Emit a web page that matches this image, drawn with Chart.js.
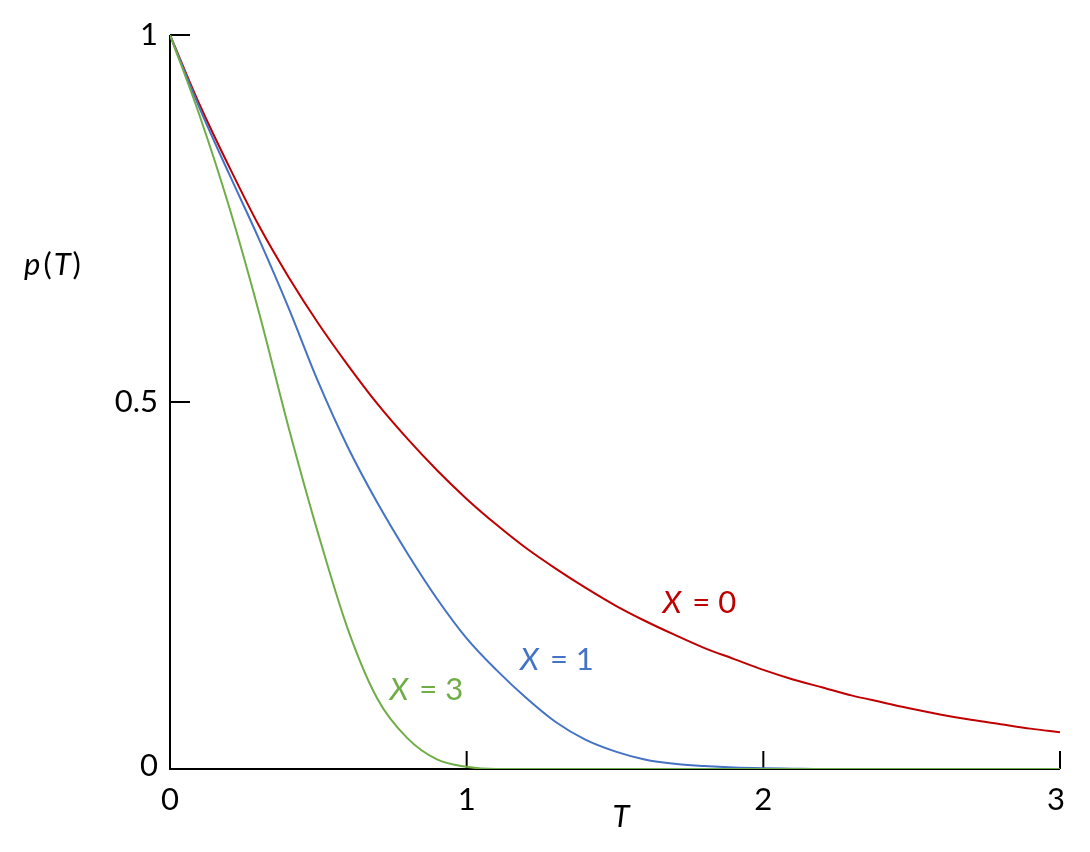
<!DOCTYPE html>
<html>
<head>
<meta charset="utf-8">
<script src="https://cdn.jsdelivr.net/npm/chart.js@4"></script>
<style>
  html, body { margin: 0; padding: 0; background: #fff; }
  #chart { display: block; }
</style>
</head>
<body>
<canvas id="chart" width="1090" height="852"></canvas>
<script>
// T values (x axis)
var tValues = [0, 0.1, 0.2, 0.3, 0.4, 0.5, 0.6, 0.7, 0.8, 0.9, 1.0,
               1.1, 1.2, 1.3, 1.4, 1.5, 1.6, 1.7, 1.8, 1.9, 2.0,
               2.1, 2.2, 2.3, 2.4, 2.5, 2.6, 2.7, 2.8, 2.9, 3.0];

// p(T) for X = 0, 1, 3
var pX0 = [1, 0.905, 0.82, 0.74, 0.67, 0.607, 0.55, 0.497, 0.45, 0.407, 0.368,
           0.333, 0.301, 0.273, 0.247, 0.223, 0.202, 0.183, 0.165, 0.15, 0.135,
           0.122, 0.111, 0.1, 0.091, 0.082, 0.074, 0.067, 0.061, 0.055, 0.05];
var pX1 = [1, 0.9, 0.81, 0.722, 0.628, 0.527, 0.438, 0.362, 0.294, 0.232, 0.178,
           0.135, 0.097, 0.064, 0.04, 0.024, 0.013, 0.007, 0.004, 0.002, 0.001,
           0.0005, 0, 0, 0, 0, 0, 0, 0, 0, 0];
var pX3 = [1, 0.89, 0.765, 0.622, 0.465, 0.32, 0.19, 0.095, 0.042, 0.013, 0.003,
           0, 0, 0, 0, 0, 0, 0, 0, 0, 0,
           0, 0, 0, 0, 0, 0, 0, 0, 0, 0];

var seriesNames = ["X = 0", "X = 1", "X = 3"];
var seriesColors = ["#C00000", "#4472C4", "#70AD47"];
// where each curve label sits, in data units [T, p]
var labelSpots = [[1.66, 0.226], [1.18, 0.148], [0.74, 0.108]];

var xTicks = [0, 1, 2, 3];
var xTickLabels = ["0", "1", "2", "3"];
var yTicks = [0, 0.5, 1];
var yTickLabels = ["0", "0.5", "1"];

var FONT = "Lato, 'Open Sans', sans-serif";
var SIZE = "31px ";

function pts(ys) {
    return tValues.map(function (t, i) { return {x: t, y: ys[i]}; });
}

// axes and ticks go under the curves, text goes on top
var axesPlugin = {
    id: "axesPlugin",
    beforeDatasetsDraw: function (chart) {
        var ctx = chart.ctx;
        var xs = chart.scales.x, ys = chart.scales.y;
        var x0 = xs.getPixelForValue(0), y0 = ys.getPixelForValue(0);
        var xEnd = xs.getPixelForValue(3), yTop = ys.getPixelForValue(1);
        ctx.save();
        ctx.strokeStyle = "#000";
        ctx.lineWidth = 2;
        ctx.beginPath();
        ctx.moveTo(x0, yTop);
        ctx.lineTo(x0, y0);
        ctx.lineTo(xEnd, y0);
        ctx.stroke();

        // ticks point inwards
        yTicks.forEach(function (v) {
            if (v === 0) return;
            var py = ys.getPixelForValue(v);
            ctx.beginPath();
            ctx.moveTo(x0, py);
            ctx.lineTo(x0 + 20, py);
            ctx.stroke();
        });
        xTicks.forEach(function (v) {
            if (v === 0) return;
            var px = xs.getPixelForValue(v);
            ctx.beginPath();
            ctx.moveTo(px, y0);
            ctx.lineTo(px, y0 - 18);
            ctx.stroke();
        });
        ctx.restore();
    },
    afterDraw: function (chart) {
        var ctx = chart.ctx;
        var xs = chart.scales.x, ys = chart.scales.y;
        var x0 = xs.getPixelForValue(0), y0 = ys.getPixelForValue(0);
        ctx.save();
        ctx.fillStyle = "#000";
        ctx.font = SIZE + FONT;
        ctx.textBaseline = "middle";
        ctx.textAlign = "right";
        yTicks.forEach(function (v, i) {
            ctx.fillText(yTickLabels[i], x0 - 12, ys.getPixelForValue(v) + (v === 0 ? -3 : 0));
        });
        ctx.textAlign = "center";
        xTicks.forEach(function (v, i) {
            var px = xs.getPixelForValue(v);
            if (v === 3) px -= 4;
            ctx.fillText(xTickLabels[i], px, y0 + 31);
        });

        // axis titles
        ctx.font = "italic " + SIZE + FONT;
        ctx.fillText("T", xs.getPixelForValue(1.52), y0 + 48);
        ctx.textAlign = "left";
        var tx = 24, ty = 265;
        ctx.fillText("p", tx, ty);
        var w = ctx.measureText("p").width;
        ctx.font = SIZE + FONT;
        ctx.fillText("(", tx + w + 3, ty);
        w += ctx.measureText("(").width + 3;
        ctx.font = "italic " + SIZE + FONT;
        ctx.fillText("T", tx + w + 2, ty);
        w += ctx.measureText("T").width + 2;
        ctx.font = SIZE + FONT;
        ctx.fillText(")", tx + w + 2, ty);

        // curve labels
        seriesNames.forEach(function (name, i) {
            var px = xs.getPixelForValue(labelSpots[i][0]);
            var py = ys.getPixelForValue(labelSpots[i][1]);
            ctx.fillStyle = seriesColors[i];
            ctx.font = "italic " + SIZE + FONT;
            ctx.fillText("X", px, py);
            var xw = ctx.measureText("X").width;
            ctx.font = SIZE + FONT;
            ctx.fillText(name.slice(1), px + xw + 3, py);
        });
        ctx.restore();
    }
};

var ctx1 = document.getElementById("chart").getContext("2d");
var myChart = new Chart(ctx1, {
    type: "line",
    data: {
        datasets: [
            {label: seriesNames[0], data: pts(pX0), borderColor: seriesColors[0], order: 2},
            {label: seriesNames[1], data: pts(pX1), borderColor: seriesColors[1], order: 1},
            {label: seriesNames[2], data: pts(pX3), borderColor: seriesColors[2], order: 0}
        ]
    },
    options: {
        responsive: false,
        animation: false,
        devicePixelRatio: 1,
        layout: {padding: {left: 170, right: 30, top: 35, bottom: 83}},
        elements: {
            point: {radius: 0},
            line: {borderWidth: 2, cubicInterpolationMode: "monotone", fill: false}
        },
        plugins: {legend: {display: false}, tooltip: {enabled: false}},
        scales: {
            x: {type: "linear", min: 0, max: 3, display: false},
            y: {type: "linear", min: 0, max: 1, display: false}
        }
    },
    plugins: [axesPlugin]
});
</script>
</body>
</html>
